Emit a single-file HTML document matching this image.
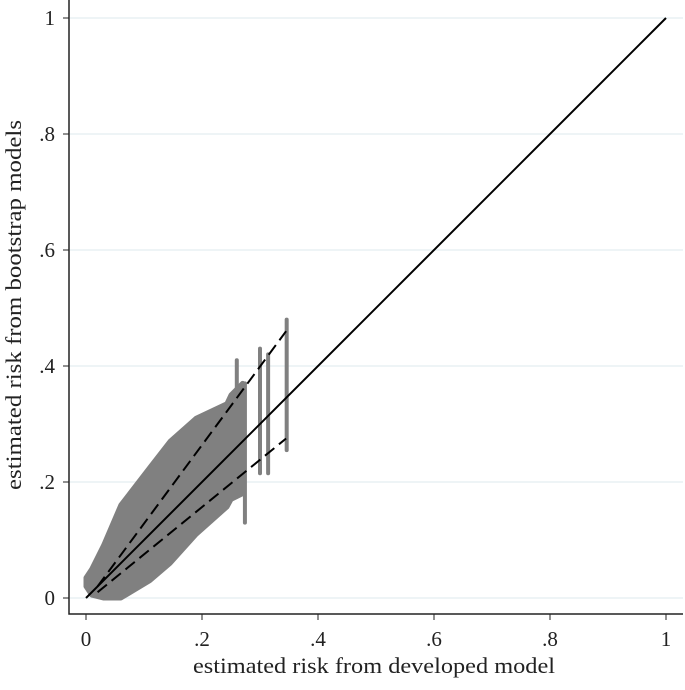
<!DOCTYPE html>
<html><head><meta charset="utf-8"><style>
body{margin:0;background:#fff;}
svg text{font-family:"Liberation Serif",serif;fill:#222;}
</style></head><body>
<svg id="chart" width="685" height="685"></svg>
<script>
const envX=[0,0.01,0.03,0.06,0.11,0.145,0.19,0.243,0.25,0.27];
const envUpper=[0.035,0.05,0.09,0.16,0.225,0.27,0.31,0.335,0.35,0.37];
const envLower=[0.02,0.005,0,0,0.03,0.06,0.11,0.157,0.17,0.18];
const stripX=[0.26,0.274,0.30,0.314,0.346];
const stripLo=[0.2,0.13,0.215,0.215,0.255];
const stripHi=[0.41,0.37,0.43,0.42,0.48];
const dashUpper=[[0.02,0.02],[0.345,0.46]];
const dashLower=[[0.02,0.01],[0.345,0.275]];
const xTicks=[0,0.2,0.4,0.6,0.8,1];
const yTicks=[0,0.2,0.4,0.6,0.8,1];
const tickLabels=["0",".2",".4",".6",".8","1"];
const X=v=>86+v*580, Y=v=>598-v*580;
const svg=document.getElementById('chart');const NS='http://www.w3.org/2000/svg';
function mk(t,a,p){const e=document.createElementNS(NS,t);for(const k in a)e.setAttribute(k,a[k]);(p||svg).appendChild(e);return e;}
yTicks.forEach((t,i)=>{
 const g=mk('line',{x1:70,x2:683,y1:Y(t),y2:Y(t),stroke:'#e4edf1','stroke-width':1.2});
 
 
 const tk=mk('line',{x1:63,x2:69,y1:Y(t),y2:Y(t),stroke:'#222'});
 
 
 const l=mk('text',{x:55,y:Y(t)+7,'text-anchor':'end','font-size':21});l.textContent=tickLabels[i];
 
 
});
xTicks.forEach((t,i)=>{
 const tk=mk('line',{x1:X(t),x2:X(t),y1:614,y2:620,stroke:'#222'});
 
 
 const l=mk('text',{x:X(t),y:646,'text-anchor':'middle','font-size':21});l.textContent=tickLabels[i];
 
 
});
const ax=mk('path',{d:'M69,0 V614 H683',fill:'none',stroke:'#222','stroke-width':1.5});


let d='M'+envX.map((x,i)=>X(x)+','+Y(envUpper[i])).join(' L');
for(let i=envX.length-1;i>=0;i--)d+=' L'+X(envX[i])+','+Y(envLower[i]);
const cloud=mk('path',{d:d+'Z',fill:'#808080',stroke:'#808080','stroke-width':5,'stroke-linejoin':'round'});


stripX.forEach((x,i)=>{
 const s=mk('line',{x1:X(x),x2:X(x),y1:Y(stripLo[i]),y2:Y(stripHi[i]),stroke:'#808080','stroke-width':4,'stroke-linecap':'round'});
 
 
});
const ref=mk('line',{x1:X(0),y1:Y(0),x2:X(1),y2:Y(1),stroke:'#000','stroke-width':2});


[dashUpper,dashLower].forEach(p=>{
 const l=mk('line',{x1:X(p[0][0]),y1:Y(p[0][1]),x2:X(p[1][0]),y2:Y(p[1][1]),stroke:'#000','stroke-width':2,'stroke-dasharray':'12,6'});
 
 
});
const xt=mk('text',{x:374,y:673,'text-anchor':'middle','font-size':22,textLength:362,lengthAdjust:'spacingAndGlyphs'});xt.textContent='estimated risk from developed model';


const yt=mk('text',{x:0,y:0,'text-anchor':'middle','font-size':22,textLength:370,lengthAdjust:'spacingAndGlyphs',transform:'translate(21,305) rotate(-90)'});yt.textContent='estimated risk from bootstrap models';


</script>
</body></html>
